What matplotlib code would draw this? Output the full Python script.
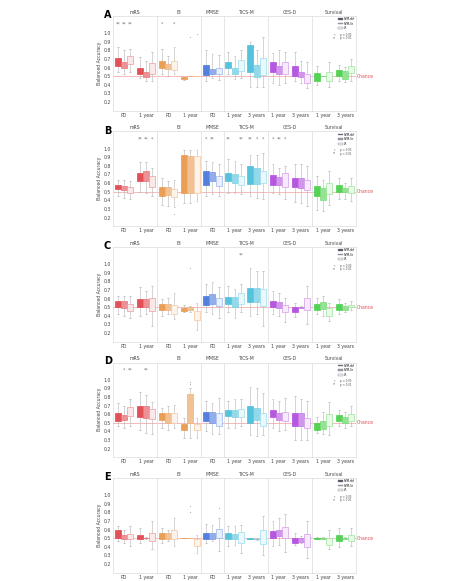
import matplotlib
matplotlib.use("Agg")
import matplotlib.pyplot as plt
from matplotlib.patches import Patch
from matplotlib.colors import to_rgb
import numpy as np

measures = ["mRS", "BI", "MMSE", "TICS-M", "CES-D", "Survival"]
timepoints = [["PD", "1 year"], ["PD", "1 year"], ["PD"],
              ["1 year", "3 years"], ["1 year", "3 years"], ["1 year", "3 years"]]
models = ["SVM-rbf", "SVM-lin", "LR"]
panel_letters = ["A", "B", "C", "D", "E"]
base_colors = ["#e0474f", "#e99a4e", "#4a78dc", "#4cc0dc", "#b24ede", "#4ccf4c"]

# (whislo, q1, med, q3, whishi) per time point and model, in plot order
stats_a = [
    (0.55, 0.62, 0.66, 0.71, 0.84), (0.53, 0.60, 0.64, 0.67, 0.80), (0.55, 0.64, 0.69, 0.73, 0.82),
    (0.48, 0.53, 0.57, 0.60, 0.72), (0.45, 0.49, 0.52, 0.55, 0.68), (0.44, 0.53, 0.58, 0.65, 0.78),
    (0.52, 0.60, 0.64, 0.68, 0.82), (0.50, 0.58, 0.61, 0.64, 0.74), (0.52, 0.57, 0.62, 0.68, 0.84),
    (0.46, 0.465, 0.475, 0.485, 0.49), (0.50, 0.50, 0.50, 0.50, 0.50), (0.50, 0.50, 0.50, 0.50, 0.50),
    (0.45, 0.51, 0.56, 0.63, 0.80), (0.48, 0.52, 0.55, 0.58, 0.76), (0.46, 0.52, 0.57, 0.60, 0.75),
    (0.52, 0.59, 0.62, 0.67, 0.78), (0.47, 0.52, 0.56, 0.60, 0.73), (0.48, 0.56, 0.60, 0.69, 0.80),
    (0.38, 0.55, 0.66, 0.86, 0.90), (0.37, 0.49, 0.57, 0.63, 0.80), (0.37, 0.51, 0.60, 0.71, 0.96),
    (0.42, 0.55, 0.62, 0.67, 0.77), (0.40, 0.53, 0.58, 0.62, 0.80), (0.42, 0.53, 0.60, 0.67, 0.78),
    (0.45, 0.50, 0.57, 0.62, 0.78), (0.42, 0.485, 0.52, 0.55, 0.68), (0.36, 0.42, 0.47, 0.53, 0.66),
    (0.40, 0.45, 0.49, 0.54, 0.62), (0.50, 0.50, 0.50, 0.50, 0.50), (0.38, 0.45, 0.50, 0.55, 0.67),
    (0.45, 0.50, 0.53, 0.57, 0.63), (0.43, 0.47, 0.52, 0.56, 0.61), (0.44, 0.54, 0.58, 0.62, 0.70),
]
stats_b = [
    (0.45, 0.53, 0.555, 0.58, 0.64), (0.43, 0.52, 0.55, 0.57, 0.64), (0.41, 0.48, 0.51, 0.555, 0.62),
    (0.50, 0.62, 0.66, 0.72, 0.84), (0.49, 0.62, 0.68, 0.74, 0.84), (0.45, 0.55, 0.60, 0.68, 0.78),
    (0.35, 0.45, 0.50, 0.555, 0.66), (0.33, 0.46, 0.51, 0.555, 0.62), (0.32, 0.44, 0.48, 0.53, 0.64),
    (0.37, 0.49, 0.88, 0.93, 0.99), (0.37, 0.49, 0.86, 0.91, 0.98), (0.39, 0.48, 0.86, 0.91, 0.98),
    (0.45, 0.58, 0.70, 0.74, 0.86), (0.47, 0.62, 0.68, 0.73, 0.84), (0.45, 0.57, 0.63, 0.68, 0.82),
    (0.48, 0.62, 0.67, 0.72, 0.88), (0.48, 0.60, 0.65, 0.71, 0.86), (0.47, 0.58, 0.62, 0.68, 0.82),
    (0.45, 0.59, 0.70, 0.80, 0.93), (0.43, 0.585, 0.72, 0.78, 0.93), (0.42, 0.60, 0.66, 0.74, 0.95),
    (0.49, 0.58, 0.65, 0.69, 0.82), (0.47, 0.58, 0.63, 0.67, 0.78), (0.41, 0.555, 0.65, 0.72, 0.80),
    (0.38, 0.55, 0.62, 0.66, 0.82), (0.37, 0.54, 0.60, 0.66, 0.82), (0.33, 0.515, 0.58, 0.64, 0.80),
    (0.29, 0.45, 0.52, 0.565, 0.68), (0.28, 0.40, 0.48, 0.545, 0.64), (0.35, 0.47, 0.52, 0.60, 0.74),
    (0.41, 0.50, 0.54, 0.58, 0.66), (0.42, 0.50, 0.52, 0.54, 0.60), (0.39, 0.49, 0.53, 0.565, 0.66),
]
stats_c = [
    (0.42, 0.50, 0.54, 0.575, 0.63), (0.40, 0.49, 0.55, 0.575, 0.63), (0.38, 0.46, 0.50, 0.535, 0.63),
    (0.40, 0.50, 0.55, 0.595, 0.73), (0.42, 0.50, 0.56, 0.60, 0.69), (0.28, 0.46, 0.55, 0.61, 0.75),
    (0.40, 0.465, 0.50, 0.535, 0.59), (0.42, 0.465, 0.51, 0.535, 0.61), (0.36, 0.42, 0.48, 0.53, 0.67),
    (0.44, 0.46, 0.48, 0.495, 0.52), (0.45, 0.465, 0.48, 0.50, 0.51), (0.24, 0.35, 0.40, 0.46, 0.55),
    (0.44, 0.53, 0.60, 0.63, 0.77), (0.42, 0.54, 0.61, 0.65, 0.79), (0.38, 0.515, 0.57, 0.61, 0.73),
    (0.44, 0.535, 0.58, 0.62, 0.75), (0.38, 0.50, 0.56, 0.62, 0.71), (0.44, 0.54, 0.60, 0.66, 0.77),
    (0.40, 0.555, 0.66, 0.72, 0.96), (0.42, 0.56, 0.66, 0.72, 0.92), (0.28, 0.515, 0.60, 0.71, 0.92),
    (0.42, 0.50, 0.55, 0.575, 0.69), (0.40, 0.49, 0.55, 0.565, 0.67), (0.33, 0.44, 0.49, 0.53, 0.61),
    (0.39, 0.44, 0.47, 0.50, 0.55), (0.49, 0.495, 0.50, 0.505, 0.51), (0.31, 0.465, 0.55, 0.605, 0.75),
    (0.42, 0.465, 0.51, 0.535, 0.61), (0.40, 0.48, 0.53, 0.555, 0.63), (0.34, 0.40, 0.45, 0.495, 0.55),
    (0.42, 0.465, 0.51, 0.535, 0.59), (0.44, 0.465, 0.50, 0.515, 0.55), (0.47, 0.50, 0.51, 0.52, 0.57),
]
stats_d = [
    (0.46, 0.515, 0.58, 0.61, 0.73), (0.44, 0.53, 0.56, 0.59, 0.69), (0.46, 0.575, 0.63, 0.68, 0.77),
    (0.42, 0.565, 0.64, 0.70, 0.86), (0.38, 0.56, 0.62, 0.69, 0.82), (0.37, 0.54, 0.61, 0.66, 0.74),
    (0.44, 0.53, 0.58, 0.61, 0.67), (0.42, 0.50, 0.56, 0.61, 0.69), (0.44, 0.50, 0.55, 0.61, 0.71),
    (0.32, 0.42, 0.45, 0.49, 0.56), (0.32, 0.50, 0.51, 0.83, 0.90), (0.32, 0.41, 0.44, 0.49, 0.56),
    (0.40, 0.515, 0.60, 0.63, 0.75), (0.37, 0.50, 0.59, 0.63, 0.73), (0.37, 0.465, 0.55, 0.61, 0.79),
    (0.44, 0.575, 0.62, 0.65, 0.75), (0.44, 0.565, 0.62, 0.65, 0.77), (0.46, 0.565, 0.62, 0.66, 0.77),
    (0.36, 0.50, 0.62, 0.69, 0.92), (0.34, 0.535, 0.62, 0.67, 0.90), (0.36, 0.46, 0.54, 0.61, 0.84),
    (0.44, 0.565, 0.62, 0.65, 0.77), (0.40, 0.53, 0.58, 0.61, 0.75), (0.42, 0.515, 0.58, 0.63, 0.79),
    (0.30, 0.46, 0.55, 0.61, 0.81), (0.30, 0.46, 0.55, 0.61, 0.77), (0.30, 0.44, 0.50, 0.555, 0.75),
    (0.38, 0.42, 0.45, 0.50, 0.57), (0.37, 0.425, 0.47, 0.515, 0.62), (0.36, 0.46, 0.52, 0.605, 0.74),
    (0.46, 0.515, 0.55, 0.585, 0.65), (0.44, 0.50, 0.54, 0.565, 0.63), (0.46, 0.525, 0.56, 0.605, 0.69),
]
stats_e = [
    (0.47, 0.50, 0.55, 0.59, 0.64), (0.45, 0.485, 0.51, 0.535, 0.59), (0.41, 0.485, 0.52, 0.55, 0.64),
    (0.45, 0.485, 0.51, 0.54, 0.62), (0.495, 0.50, 0.50, 0.505, 0.51), (0.37, 0.465, 0.51, 0.56, 0.70),
    (0.45, 0.495, 0.53, 0.56, 0.62), (0.47, 0.495, 0.53, 0.56, 0.60), (0.41, 0.495, 0.54, 0.59, 0.74),
    (0.50, 0.50, 0.50, 0.50, 0.50), (0.50, 0.50, 0.50, 0.50, 0.50), (0.33, 0.41, 0.45, 0.49, 0.54),
    (0.45, 0.495, 0.53, 0.56, 0.67), (0.47, 0.495, 0.53, 0.56, 0.65), (0.35, 0.50, 0.56, 0.61, 0.74),
    (0.41, 0.49, 0.53, 0.56, 0.64), (0.42, 0.485, 0.52, 0.55, 0.64), (0.33, 0.445, 0.50, 0.575, 0.65),
    (0.485, 0.49, 0.495, 0.50, 0.505), (0.48, 0.485, 0.49, 0.495, 0.50), (0.31, 0.435, 0.52, 0.59, 0.76),
    (0.41, 0.505, 0.55, 0.58, 0.70), (0.42, 0.52, 0.57, 0.60, 0.74), (0.34, 0.505, 0.57, 0.63, 0.78),
    (0.42, 0.445, 0.48, 0.505, 0.56), (0.44, 0.455, 0.49, 0.505, 0.53), (0.27, 0.395, 0.48, 0.55, 0.70),
    (0.49, 0.495, 0.50, 0.505, 0.51), (0.49, 0.495, 0.50, 0.505, 0.51), (0.37, 0.42, 0.47, 0.505, 0.60),
    (0.40, 0.465, 0.50, 0.535, 0.62), (0.49, 0.495, 0.50, 0.505, 0.51), (0.41, 0.47, 0.50, 0.535, 0.62),
]
panel_stats = [stats_a, stats_b, stats_c, stats_d, stats_e]

# outliers: (time point slot, model) -> values
fliers_a = {(3, 1): [0.96], (3, 2): [0.99]}
fliers_b = {(2, 2): [0.24]}
fliers_c = {(3, 1): [0.96]}
fliers_d = {(3, 1): [0.95, 0.97]}
fliers_e = {(3, 1): [0.80, 0.87], (4, 2): [0.85]}
panel_fliers = [fliers_a, fliers_b, fliers_c, fliers_d, fliers_e]

# significance marks: (time point slot, model, label)
stars_a = [(0, 0, "**"), (0, 1, "**"), (0, 2, "**"), (2, 0, "*"), (2, 2, "*")]
stars_b = [(1, 0, "**"), (1, 1, "**"), (1, 2, "*"), (4, 0, "*"), (4, 1, "**"),
           (5, 0, "**"), (5, 2, "**"), (6, 0, "**"), (6, 1, "*"), (6, 2, "*"),
           (7, 0, "*"), (7, 1, "**"), (7, 2, "*")]
stars_c = [(5, 2, "**")]
stars_d = [(0, 1, "*"), (0, 2, "**"), (1, 1, "**")]
stars_e = []
panel_stars = [stars_a, stars_b, stars_c, stars_d, stars_e]


def mix(c, f):
    # f = share of white
    r = np.array(to_rgb(c))
    return tuple(r * (1 - f) + f)


W, H = 474, 581
fig = plt.figure(figsize=(W / 100, H / 100), dpi=100)
left_px = 113
slot_px = 22.1
height_px = 94.6
offsets = [-0.28, 0.0, 0.28]
spine_col = "#dcdcdc"
fs = 3.3

for p in range(5):
    top_px = 16 + 115.5 * p
    slot0 = 0
    for c, meas in enumerate(measures):
        n = len(timepoints[c])
        ax = fig.add_axes([(left_px + slot0 * slot_px) / W, 1 - (top_px + height_px) / H,
                           n * slot_px / W, height_px / H])
        ax.set_xlim(-0.5, n - 0.5)
        ax.set_ylim(0.1, 1.2)
        for s in ax.spines.values():
            s.set_color(spine_col)
            s.set_linewidth(0.5)
        ax.axhline(0.5, color="#f2a0a0", lw=0.5, zorder=1)
        base = base_colors[c]
        face = [mix(base, 0.05), mix(base, 0.4), mix(base, 0.88)]
        edge = [mix(base, 0.0), mix(base, 0.25), mix(base, 0.45)]
        for m in range(3):
            stats = []
            for t in range(n):
                idx = (slot0 + t) * 3 + m
                lo, q1, med, q3, hi = panel_stats[p][idx]
                fl = panel_fliers[p].get((slot0 + t, m), [])
                stats.append(dict(whislo=lo, q1=q1, med=med, q3=q3, whishi=hi, fliers=fl))
            art = ax.bxp(stats, positions=np.arange(n) + offsets[m], widths=0.27,
                         patch_artist=True, showfliers=True, manage_ticks=False,
                         boxprops=dict(facecolor=face[m], edgecolor=edge[m], linewidth=0.5),
                         medianprops=dict(color=edge[m], linewidth=0.5),
                         whiskerprops=dict(color="#b5b5b5", linewidth=0.4),
                         capprops=dict(color="#b5b5b5", linewidth=0.4),
                         flierprops=dict(marker="o", markersize=0.8, markerfacecolor="#aaaaaa",
                                         markeredgecolor="none"),
                         capwidths=0.08)
            for b in art["boxes"]:
                b.set_zorder(3)
        for (slot, m, lab) in panel_stars[p]:
            if slot0 <= slot < slot0 + n:
                ax.text(slot - slot0 + offsets[m], 1.11, lab, ha="center", va="center",
                        fontsize=fs, color="#777777")
        ax.set_xticks(np.arange(n))
        ax.set_xticklabels(timepoints[c], fontsize=fs, color="#444444")
        ax.tick_params(axis="x", length=0, pad=1.5)
        ax.set_title(meas, fontsize=fs, color="#444444", pad=1.5)
        if c == 0:
            ax.set_yticks(np.arange(0.2, 1.01, 0.1))
            ax.set_yticklabels(["%.1f" % v for v in np.arange(0.2, 1.01, 0.1)],
                               fontsize=fs, color="#444444")
            ax.tick_params(axis="y", length=0, pad=1.5)
            ax.set_ylabel("Balanced Accuracy", fontsize=fs, color="#444444", labelpad=1)
        else:
            ax.set_yticks([])
        if c == len(measures) - 1:
            ax.text(1.01, 0.5, "Chance", transform=ax.get_yaxis_transform(), fontsize=fs,
                    color="#e05050", va="center", ha="left")
            grays = ["#4a4a60", "#9a9aaa", "#f0f0f4"]
            handles = [Patch(facecolor=grays[k], edgecolor="#8a8a9a", linewidth=0.3, label=models[k])
                       for k in range(3)]
            ax.legend(handles=handles, loc="upper right", fontsize=2.0, frameon=False,
                      handlelength=1.6, handleheight=0.5, borderaxespad=0.2, borderpad=0.2,
                      labelspacing=0.2, handletextpad=0.5)
            ax.text(0.52, 0.80, "*", transform=ax.transAxes, fontsize=2.2, color="#555555",
                    ha="center", va="center")
            ax.text(0.64, 0.80, "p < 0.05", transform=ax.transAxes, fontsize=2.0, color="#555555",
                    va="center")
            ax.text(0.52, 0.765, "**", transform=ax.transAxes, fontsize=2.2, color="#555555",
                    ha="center", va="center")
            ax.text(0.64, 0.765, "p < 0.01", transform=ax.transAxes, fontsize=2.0, color="#555555",
                    va="center")
        slot0 += n
    fig.text(104 / W, 1 - (top_px - 1) / H, panel_letters[p], fontsize=7, fontweight="bold",
             ha="left", va="center")

fig.savefig("out.png", dpi=100)
